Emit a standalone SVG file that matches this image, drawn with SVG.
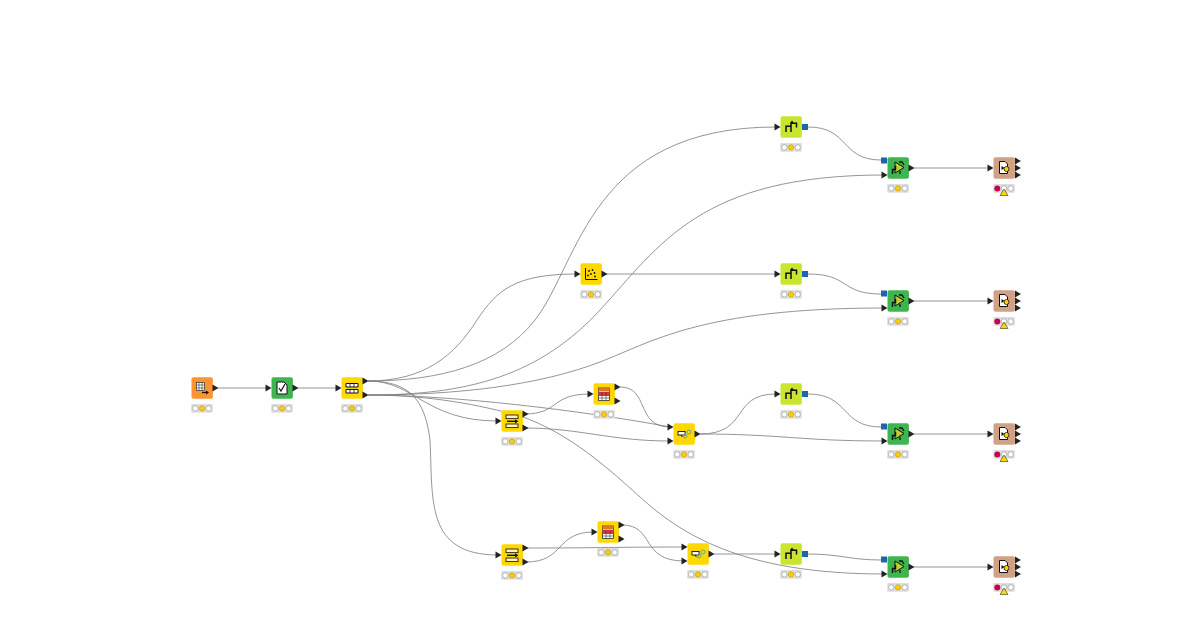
<svg xmlns="http://www.w3.org/2000/svg" width="1200" height="630" viewBox="0 0 1200 630">
<style>
.c{fill:none;stroke:#828282;stroke-width:.85}
.or{fill:#fe9430}.gr{fill:#3fb550}.ye{fill:#ffd800}.li{fill:#c9e52f}.br{fill:#d0a184}
.t{fill:#222}.b{fill:#1c66ad}
.icf{fill:#111}
.sb{fill:#dedede}.l{fill:#fff;stroke:#9a9a9a;stroke-width:.7}.ly{fill:#ffcb05;stroke:#b59a20;stroke-width:.6}.lr{fill:#c8004f}
</style>
<defs>
<path id="tr" d="M-3,-3.4L3,0L-3,3.4Z" class="t"/>
<g id="st"><rect x="-10.8" y="16" width="21.6" height="8.8" rx="1" class="sb"/><circle cx="-6.7" cy="20.4" r="2.7" class="l"/><circle cy="20.4" r="2.7" class="ly"/><circle cx="6.7" cy="20.4" r="2.7" class="l"/></g>
<g id="stw"><rect x="-10.8" y="16" width="21.6" height="8.8" rx="1" class="sb"/><circle cx="-6.7" cy="20.4" r="3" class="lr"/><circle cy="20.4" r="2.7" class="l"/><circle cx="6.7" cy="20.4" r="2.7" class="l"/><path d="M0,21L4,27.5H-4Z" fill="#ffd800" stroke="#333" stroke-width=".6"/></g>
<rect id="bx" x="-10.5" y="-10.7" width="21.4" height="21.4" rx="2"/>
<g id="i-model"><path d="M-5,5V-.7H0V5M0,-.7V-3.8H5.5V.5" fill="none" stroke="#111" stroke-width="1.5"/><path class="icf" d="M-1,-3.8L1,-6.5L3,-3.8Z"/></g>
<g id="i-learn"><path d="M-3,-6L6,-.5L-3,5Z" fill="#bfd12e" stroke="#111" stroke-width="1"/><path d="M-5.5,6V1.5H-2.5V-2" fill="none" stroke="#111" stroke-width="1.5"/><path d="M1,-6H4L6,-3" fill="none" stroke="#111" stroke-width="1.3"/><path d="M2,3V6" stroke="#111" stroke-width="1.3"/></g>
<g id="i-split"><rect x="-6" y="-6" width="12" height="3.6" fill="#fff3b8" stroke="#222" stroke-width=".9"/><rect x="-6" y="3" width="12" height="3.6" fill="#fff3b8" stroke="#222" stroke-width=".9"/><path d="M-5,.3H4" stroke="#111" stroke-width="1.4"/><path d="M3,-1.8L6.5,.3L3,2.4Z" class="icf"/></g>
<g id="i-tab"><rect x="-5.5" y="-6" width="11" height="12.500" fill="#fff" stroke="#333" stroke-width=".8"/><rect x="-5.5" y="-6" width="11" height="3.5" fill="#d8792a"/><rect x="-5.5" y="-2" width="11" height="3.5" fill="#d8353a"/><path d="M-5.5,1.5H5.5M-5.5,4H5.5M-2,-2V6.5M2,-2V6.5" stroke="#333" stroke-width=".6"/></g>
<g id="i-pred"><rect x="-6" y="-2.5" width="7" height="3.5" fill="#fff" stroke="#111" stroke-width=".9"/><path d="M-3,1L-1.5,3" stroke="#111" stroke-width="1"/><circle cx="1" cy="2" r="2" fill="none" stroke="#5aa7b0" stroke-width="1"/><circle cx="5" cy="-2" r="2" fill="none" stroke="#5aa7b0" stroke-width="1"/></g>
<g id="i-rep"><path d="M-4.5,-6.5H1L3.5,-4V5.5H-4.5Z" fill="#fff" stroke="#111" stroke-width="1"/><path d="M-2.5,-2L.5,0L-2.5,2Z" class="icf"/><circle cx="2.5" cy="1" r="2.5" fill="#ffd800" stroke="#111" stroke-width=".8"/></g>
</defs>

<g id="connectors">
<path class="c" d="M218,388H266"/>
<path class="c" d="M298,388H336"/>
<path class="c" d="M368,381C425,381 455,355 477,320C497,290 515,274 577,274"/>
<path class="c" d="M368,381C440,381 500,365 535,320C580,262 590,127 776,127"/>
<path class="c" d="M368,395C470,395 540,375 600,310C660,245 700,175 884,175"/>
<path class="c" d="M368,395C460,395 540,385 600,362C650,343 700,308 884,308"/>
<path class="c" d="M368,381C415,381 425,421 498,421"/>
<path class="c" d="M368,381C410,381 425,400 430,440C433,500 425,555 498,555"/>
<path class="c" d="M368,395C450,395 580,410 670,427"/>
<path class="c" d="M524,414C560,414 550,394 590,394"/>
<path class="c" d="M524,428C580,428 610,441 670,441"/>
<path class="c" d="M368,395C430,395 480,405 520,416C570,433 610,470 640,497C680,533 740,574 884,574"/>
<path class="c" d="M620,387C650,387 635,427 670,427"/>
<path class="c" d="M700,434C750,434 730,394 776,394"/>
<path class="c" d="M700,434C780,434 800,441 884,441"/>
<path class="c" d="M606,274H776"/>
<path class="c" d="M808,127C850,127 840,160 881,160"/>
<path class="c" d="M808,274C850,274 840,294 881,294"/>
<path class="c" d="M808,394C850,394 840,427 881,427"/>
<path class="c" d="M808,554C840,554 850,560 881,560"/>
<path class="c" d="M526,548C600,548 620,547 684,547"/>
<path class="c" d="M526,562C565,562 555,532 594,532"/>
<path class="c" d="M622,525C655,525 640,561 684,561"/>
<path class="c" d="M714,554H776"/>
<path class="c" d="M914,168H989"/>
<path class="c" d="M914,301H989"/>
<path class="c" d="M914,434H989"/>
<path class="c" d="M914,567H989"/>
</g>

<g id="n1" transform="translate(202,388)"><use href="#bx" class="or"/><use href="#st"/><use href="#tr" x="13.5"/><rect x="-5.5" y="-5.5" width="8" height="8" fill="#fff" stroke="#333" stroke-width=".7"/><path d="M-5.5,-3H2.5M-5.5,0H2.5M-3,-5.5V2.5M0,-5.5V2.5" stroke="#333" stroke-width=".6"/><path d="M0,4.5H5" stroke="#111" stroke-width="1.3"/><path d="M4,2.5L7,4.5L4,6.5Z" class="icf"/></g>
<g id="n2" transform="translate(282,388)"><use href="#bx" class="gr"/><use href="#st"/><use href="#tr" x="-13.5"/><use href="#tr" x="13.5"/><path d="M-5,-6H2L5,-3V6H-5Z" fill="#fff" stroke="#111" stroke-width="1"/><path d="M-3,0L-1,3L3,-4" fill="none" stroke="#111" stroke-width="1.2"/></g>
<g id="n3" transform="translate(352,388)"><use href="#bx" class="ye"/><use href="#st"/><use href="#tr" x="-13.5"/><use href="#tr" x="13.5" y="-7"/><use href="#tr" x="13.5" y="7"/><path d="M-6,-4.5H6V-1H-6ZM-6,1.5H6V5H-6Z" fill="#fff" stroke="#111" stroke-width="1"/><path d="M-2,-4.5V-1M2,-4.5V-1M-2,1.5V5M2,1.5V5" stroke="#111" stroke-width=".8"/></g>

<g id="n4" transform="translate(591,274)"><use href="#bx" class="ye"/><use href="#st"/><use href="#tr" x="-13.5"/><use href="#tr" x="13.5"/><path d="M-5.5,-6V5.5H6.5" fill="none" stroke="#111" stroke-width="1"/><g class="icf"><circle cx="-3" cy="1.5" r=".9"/><circle cx="-2" cy="-3" r=".9"/><circle cx="0" cy="0" r=".9"/><circle cx="1.5" cy="-4" r=".9"/><circle cx="3.5" cy="-1" r=".9"/><circle cx="4" cy="2.5" r=".9"/></g></g>

<g id="n5" transform="translate(512,421)"><use href="#bx" class="ye"/><use href="#st"/><use href="#tr" x="-13.5"/><use href="#tr" x="13.5" y="-7"/><use href="#tr" x="13.5" y="7"/><use href="#i-split"/></g>
<g id="n6" transform="translate(512,555)"><use href="#bx" class="ye"/><use href="#st"/><use href="#tr" x="-13.5"/><use href="#tr" x="13.5" y="-7"/><use href="#tr" x="13.5" y="7"/><use href="#i-split"/></g>
<g id="n7" transform="translate(604,394)"><use href="#bx" class="ye"/><use href="#st"/><use href="#tr" x="-13.5"/><use href="#tr" x="13.5" y="-7"/><use href="#tr" x="13.5" y="7"/><use href="#i-tab"/></g>
<g id="n8" transform="translate(608,532)"><use href="#bx" class="ye"/><use href="#st"/><use href="#tr" x="-13.5"/><use href="#tr" x="13.5" y="-7"/><use href="#tr" x="13.5" y="7"/><use href="#i-tab"/></g>
<g id="n9" transform="translate(684,434)"><use href="#bx" class="ye"/><use href="#st"/><use href="#tr" x="-13.5" y="-7"/><use href="#tr" x="-13.5" y="7"/><use href="#tr" x="13.5"/><use href="#i-pred"/></g>
<g id="n10" transform="translate(698,554)"><use href="#bx" class="ye"/><use href="#st"/><use href="#tr" x="-13.5" y="-7"/><use href="#tr" x="-13.5" y="7"/><use href="#tr" x="13.5"/><use href="#i-pred"/></g>

<g id="n11" transform="translate(791,127)"><use href="#bx" class="li"/><use href="#st"/><use href="#tr" x="-13.5"/><rect x="11" y="-3" width="6" height="6" class="b"/><use href="#i-model"/></g>
<g id="n12" transform="translate(791,274)"><use href="#bx" class="li"/><use href="#st"/><use href="#tr" x="-13.5"/><rect x="11" y="-3" width="6" height="6" class="b"/><use href="#i-model"/></g>
<g id="n13" transform="translate(791,394)"><use href="#bx" class="li"/><use href="#st"/><use href="#tr" x="-13.5"/><rect x="11" y="-3" width="6" height="6" class="b"/><use href="#i-model"/></g>
<g id="n14" transform="translate(791,554)"><use href="#bx" class="li"/><use href="#st"/><use href="#tr" x="-13.5"/><rect x="11" y="-3" width="6" height="6" class="b"/><use href="#i-model"/></g>

<g id="n15" transform="translate(898,168)"><use href="#bx" class="gr"/><use href="#st"/><rect x="-17" y="-10.5" width="6" height="6" class="b"/><use href="#tr" x="-13.5" y="7"/><use href="#tr" x="13.5"/><use href="#i-learn"/></g>
<g id="n16" transform="translate(898,301)"><use href="#bx" class="gr"/><use href="#st"/><rect x="-17" y="-10.5" width="6" height="6" class="b"/><use href="#tr" x="-13.5" y="7"/><use href="#tr" x="13.5"/><use href="#i-learn"/></g>
<g id="n17" transform="translate(898,434)"><use href="#bx" class="gr"/><use href="#st"/><rect x="-17" y="-10.5" width="6" height="6" class="b"/><use href="#tr" x="-13.5" y="7"/><use href="#tr" x="13.5"/><use href="#i-learn"/></g>
<g id="n18" transform="translate(898,567)"><use href="#bx" class="gr"/><use href="#st"/><rect x="-17" y="-10.5" width="6" height="6" class="b"/><use href="#tr" x="-13.5" y="7"/><use href="#tr" x="13.5"/><use href="#i-learn"/></g>

<g id="n19" transform="translate(1004,168)"><use href="#bx" class="br"/><use href="#stw"/><use href="#tr" x="-13.5"/><use href="#tr" x="14" y="-7"/><use href="#tr" x="14"/><use href="#tr" x="14" y="7"/><use href="#i-rep"/></g>
<g id="n20" transform="translate(1004,301)"><use href="#bx" class="br"/><use href="#stw"/><use href="#tr" x="-13.5"/><use href="#tr" x="14" y="-7"/><use href="#tr" x="14"/><use href="#tr" x="14" y="7"/><use href="#i-rep"/></g>
<g id="n21" transform="translate(1004,434)"><use href="#bx" class="br"/><use href="#stw"/><use href="#tr" x="-13.5"/><use href="#tr" x="14" y="-7"/><use href="#tr" x="14"/><use href="#tr" x="14" y="7"/><use href="#i-rep"/></g>
<g id="n22" transform="translate(1004,567)"><use href="#bx" class="br"/><use href="#stw"/><use href="#tr" x="-13.5"/><use href="#tr" x="14" y="-7"/><use href="#tr" x="14"/><use href="#tr" x="14" y="7"/><use href="#i-rep"/></g>
</svg>
